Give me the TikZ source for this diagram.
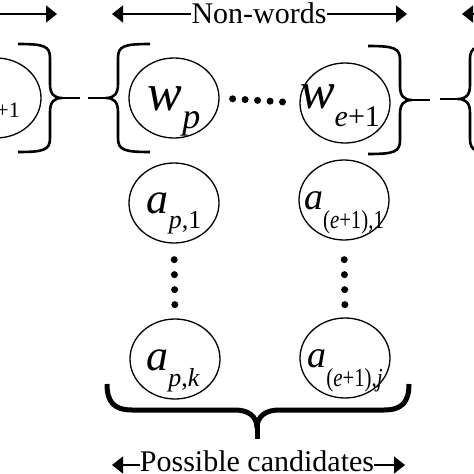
\documentclass[tikz,border=0pt]{standalone}
\usepackage{fontspec}
\setmainfont{Liberation Serif}
\usetikzlibrary{shapes.geometric,arrows.meta}

\newcommand{\wsym}[3]{\makebox[0pt]{\hspace*{#2}\fontsize{52}{52}\selectfont\textit{w}\raisebox{-18pt}{\fontsize{#1}{#1}\selectfont #3}}}
% size of a, size of index, drop, shift, index
\newcommand{\asym}[5]{\makebox[0pt]{\hspace*{#4}\fontsize{#1}{#1}\selectfont\textit{a}\raisebox{-#3pt}{\fontsize{#2}{#2}\selectfont #5}}}
\newcommand{\narrow}[1]{\scalebox{0.8}[1]{#1}}

\tikzset{
  word/.style={draw, ellipse, line width=1.3pt, minimum width=90pt, minimum height=80pt, inner sep=0pt, text depth=0pt},
  brace line/.style={line width=2.6pt},
  span arrow/.style={line width=1.5pt, -{Triangle[length=11pt,width=17pt]}},
  dotrow/.style={line width=7pt, line cap=round, dash pattern=on 0pt off #1},
  rbrace/.pic={
    \draw[brace line] (-32,-54) .. controls (-6,-54) and (0,-52) .. (0,-40) -- (0,-14)
      .. controls (0,-4) and (4,0) .. (12,0) .. controls (4,0) and (0,4) .. (0,14)
      -- (0,40) .. controls (0,52) and (-6,54) .. (-32,54);
    \draw[brace line] (12,0) -- (30,0);
  }
}

\begin{document}
\begin{tikzpicture}[x=1pt, y=-1pt]
    \useasboundingbox (0,0) rectangle (474,474);
    \clip (0,0) rectangle (474,474);

    % Words
    \node[word] (prev) at (-4,98) {};
    \node[font=\fontsize{22}{22}\selectfont, anchor=base east, inner sep=0pt] (prevsub) at (20,117) {+1};
    \node[word, text height=24pt] (wp) at (174,98) {\wsym{36}{0pt}{\textit{p}}};
    \node[word, text height=10pt] (we) at (345,103) {\wsym{30}{-10pt}{\textit{e}+1}};

    % Candidates
    \node[word, text height=20pt] (ap1) at (174,203) {\asym{44}{26}{15}{0pt}{\textit{p},1}};
    \node[word, text height=18pt] (ae1) at (344,200) {\asym{38}{26}{19}{0pt}{\narrow{(\textit{e}+1),1}}};
    \node[word, text height=22pt] (apk) at (175,359) {\asym{44}{26}{16}{-4pt}{\textit{p},\textit{k}}};
    \node[word, text height=18pt] (aej) at (345,358) {\asym{38}{26}{19}{0pt}{\narrow{(\textit{e}+1),\textit{j}}}};

    % Dots
    \draw[dotrow=12.5pt, shorten <=13pt, shorten >=14pt] (wp.east) -- (we.west);
    \draw[dotrow=15pt, shorten <=16pt, shorten >=8pt] (ap1.south) -- (apk.north);
    \draw[dotrow=15pt, shorten <=19pt, shorten >=6pt] (ae1.south) -- (aej.north);

    % Braces
    \pic at (50,98) {rbrace};
    \pic[xscale=-1] at (118,98) {rbrace};
    \pic at (400,100) {rbrace};
    \pic[xscale=-1] at (470,99) {rbrace};
    \draw[line width=5pt] (107,384) .. controls (107,402) and (114,410) .. (132,410) -- (235,410)
      .. controls (248,410) and (257,416) .. (257,428) .. controls (257,416) and (266,410) .. (279,410)
      -- (384,410) .. controls (402,410) and (409,402) .. (409,384);
    \draw[line width=5pt] (257,426) -- (257,439);

    % Spans
    \node[font=\fontsize{30}{30}\selectfont, inner sep=0pt] (nonwords) at (259,13) {Non-words};
    \coordinate (nwl) at (112,14);
    \coordinate (nwr) at (407,14);
    \draw[span arrow] (nonwords.west |- nwl) -- (nwl);
    \draw[span arrow] (nonwords.east |- nwr) -- (nwr);
    \coordinate (pl0) at (0,14);
    \coordinate (pl1) at (57,14);
    \draw[span arrow] (pl0) -- (pl1);
    \coordinate (nx0) at (480,14);
    \coordinate (nx1) at (462,14);
    \draw[span arrow] (nx0) -- (nx1);

    \node[font=\fontsize{30}{30}\selectfont, anchor=base, inner sep=0pt] (cands) at (257,471) {Possible candidates};
    \coordinate (cl) at (112,465);
    \coordinate (cr) at (405,465);
    \draw[span arrow] (cands.west |- cl) -- (cl);
    \draw[span arrow] (cands.east |- cr) -- (cr);
\end{tikzpicture}
\end{document}
